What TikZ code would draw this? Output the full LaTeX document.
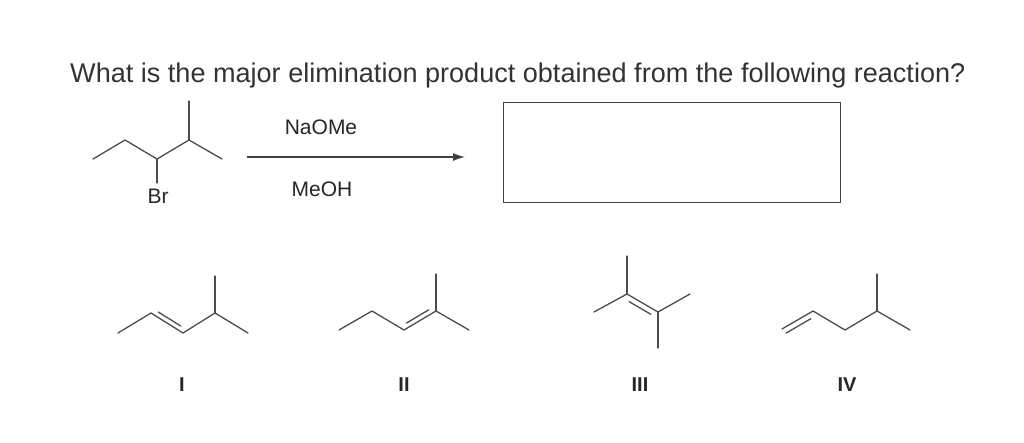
\documentclass[tikz,border=0pt]{standalone}
\usepackage{fontspec}
\setmainfont{Liberation Sans}
\usetikzlibrary{arrows.meta,calc}
\begin{document}
\begin{tikzpicture}[x=1pt,y=-1pt,
  bond/.style={draw=black!70,line width=1.3pt,line cap=round,line join=round},
  lbl/.style={font=\fontsize{21}{24}\selectfont,text=black!85,inner sep=0pt},
  num/.style={font=\bfseries\fontsize{20}{24}\selectfont,text=black!85,inner sep=0pt}]
\useasboundingbox (0,0) rectangle (1024,443);
\node[anchor=west,inner sep=0pt,text=black!80] (title) at (70,76)
  {\resizebox{895pt}{!}{What is the major elimination product obtained from the following reaction?}};
% starting material
\coordinate (s1) at (93,159); \coordinate (s2) at (125,140); \coordinate (s3) at (157,159);
\coordinate (s4) at (189,140); \coordinate (s5) at (189,101); \coordinate (s6) at (222,159);
\coordinate (s7) at (157,183);
\draw[bond] (s1)--(s2)--(s3)--(s4)--(s6); \draw[bond] (s4)--(s5); \draw[bond] (s3)--(s7);
\node[lbl] (br) at (158,196) {Br};
% arrow
\coordinate (a1) at (247,157); \coordinate (a2) at (465,157);
\draw[draw=black!75,line width=1.3pt,-{Latex[length=12pt,width=8pt]}] (a1)--(a2);
\node[lbl] (reag) at (321,127) {NaOMe};
\node[lbl] (solv) at (322,189) {MeOH};
\node[draw=black!75,line width=1pt,minimum width=337pt,minimum height=100pt,inner sep=0pt] (box) at (671.5,153) {};
% I
\coordinate (i1) at (118,333); \coordinate (i2) at (151,313); \coordinate (i3) at (183,333);
\coordinate (i4) at (215,313); \coordinate (i5) at (215,276); \coordinate (i6) at (248,333);
\draw[bond] (i1)--(i2)--(i3)--(i4)--(i6); \draw[bond] (i4)--(i5);
\draw[bond] ($(i2)!0.15!(i3)+(2.5,-4)$)--($(i2)!0.85!(i3)+(2.5,-4)$);
\node[num] (n1) at (182,385) {I};
% II
\coordinate (j1) at (339,330); \coordinate (j2) at (372,311); \coordinate (j3) at (404,330);
\coordinate (j4) at (436,311); \coordinate (j5) at (436,274); \coordinate (j6) at (469,330);
\draw[bond] (j1)--(j2)--(j3)--(j4)--(j6); \draw[bond] (j4)--(j5);
\draw[bond] ($(j3)!0.15!(j4)+(-2.5,-4)$)--($(j3)!0.85!(j4)+(-2.5,-4)$);
\node[num] (n2) at (404,385) {II};
% III
\coordinate (k1) at (627,294); \coordinate (k2) at (627,256); \coordinate (k3) at (594,312);
\coordinate (k4) at (658,312); \coordinate (k5) at (690,294); \coordinate (k6) at (658,348);
\draw[bond] (k3)--(k1)--(k4)--(k5); \draw[bond] (k1)--(k2); \draw[bond] (k4)--(k6);
\draw[bond] ($(k1)!0.15!(k4)+(-2.5,5)$)--($(k1)!0.85!(k4)+(-2.5,5)$);
\node[num] (n3) at (640,385) {III};
% IV
\coordinate (m1) at (782,329); \coordinate (m2) at (813,311); \coordinate (m3) at (845,330);
\coordinate (m4) at (877,311); \coordinate (m5) at (877,274); \coordinate (m6) at (910,330);
\draw[bond] (m1)--(m2)--(m3)--(m4)--(m6); \draw[bond] (m4)--(m5);
\draw[bond] ($(m1)!0.05!(m2)+(2.5,5)$)--($(m1)!0.85!(m2)+(2.5,5)$);
\node[num] (n4) at (847,385) {IV};
\end{tikzpicture}
\end{document}
